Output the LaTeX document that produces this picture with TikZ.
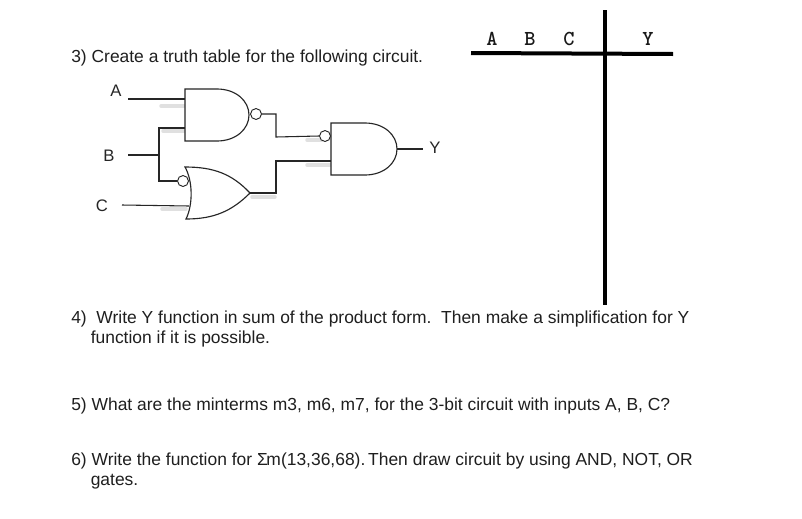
\documentclass[tikz,border=0pt]{standalone}
\usepackage{fontspec}
\setmainfont{Liberation Sans}
\begin{document}
\begin{tikzpicture}[x=0.75pt,y=-0.75pt,
  txt/.style={anchor=base west,inner sep=0pt,font=\fontsize{13.08pt}{15pt}\selectfont,text=black!88},
  lab/.style={anchor=center,inner sep=0pt,font=\fontsize{12.5pt}{14pt}\selectfont,text=black!85},
  mono/.style={anchor=center,inner sep=0pt,font=\fontsize{16pt}{17pt}\selectfont\ttfamily\bfseries,text=black!90},
  wire/.style={draw=black!85,line width=0.8pt,line join=miter},
  gate/.style={draw=black!85,line width=0.85pt,fill=white,line join=miter},
  bubble/.style={circle,draw=black!85,line width=0.7pt,fill=white,inner sep=0pt,minimum size=8.2pt},
  shade/.style={draw=black!12,line width=2.6pt,line cap=round},
  rule/.style={draw=black,line width=3pt}]
\useasboundingbox (0,0) rectangle (802,518);
\fill[white] (0,0) rectangle (802,518);

% truth table
\coordinate (tl) at (471,53);\coordinate (tr) at (673,54);
\coordinate (vt) at (605,10);\coordinate (vb) at (605,305);
\draw[rule] (tl) -- (tr);
\draw[rule] (vt) -- (vb);
\node[mono] (ta) at (492,39) {A};
\node[mono] (tb) at (530,39) {B};
\node[mono] (tc) at (569,39) {C};
\node[mono] (ty) at (648,39) {Y};

% soft shadows under wires
\foreach \a/\b/\c in {161/106/184,163/131/184,162/209/186,307/165/330,307/140/322,252/197/275}
  \draw[shade] (\a,\b) -- (\c,\b);

% labels
\node[lab] (la) at (116,91) {A};
\node[lab] (lb) at (109,156) {B};
\node[lab] (lc) at (102,206) {C};
\node[lab] (ly) at (435,148) {Y};

% junction and free ends
\coordinate (ina) at (128,99);
\coordinate (inb) at (128,155);
\coordinate (inc) at (122,205);
\coordinate (jb) at (159,155);

% gates
\coordinate (n1) at (185,89);\coordinate (n2) at (185,141);\coordinate (nt) at (249,115);
\draw[gate] (n1) -- (217,89) .. controls (236,89) and (249,101) .. (nt)
  .. controls (249,129) and (236,141) .. (217,141) -- (n2) -- cycle;
\coordinate (a1) at (331,123);\coordinate (a2) at (331,175);\coordinate (at) at (397,149);
\draw[gate] (a1) -- (365,123) .. controls (384,123) and (397,135) .. (at)
  .. controls (397,163) and (384,175) .. (365,175) -- (a2) -- cycle;
\coordinate (o1) at (185,167);\coordinate (o2) at (186,219);\coordinate (ot) at (250,193);
\draw[gate] (o1) .. controls (214,167) and (232,174) .. (ot)
  .. controls (232,211) and (214,219) .. (o2)
  .. controls (193,205) and (193,181) .. (o1) -- cycle;

\node[bubble] (bn) at (256,114) {};
\node[bubble] (ba) at (325,136) {};
\node[bubble] (bo) at (183,181) {};

% wires
\draw[wire] (ina) -- (n1 |- ina);
\draw[wire] (inb) -- (jb);
\draw[wire] (jb) -- (159,128) -- (185,128);
\draw[wire] (jb) -- (159,181) -- (bo.west);
\draw[wire] (inc) -- (189,206);
\draw[wire] (bn.east) -- (276,114) -- (276,137) -- (ba.west);
\draw[wire] (ot) -- (276,193) -- (276,161) -- (331,161);
\draw[wire] (at) -- (423,149);

% text
\node[txt] (t3) at (71,62) {3) Create a truth table for the following circuit.};
\node[txt] (t4) at (71,323) {4)\ \ Write Y function in sum of the product form.\ \ Then make a simplification for Y};
\node[txt] (t4b) at (90.5,343.5) {function if it is possible.};
\node[txt] (t5) at (71,410.5) {5) What are the minterms m3, m6, m7, for the 3-bit circuit with inputs A, B, C?};
\node[txt] (t6) at (71,465) {6) Write the function for Σ\kern-1pt m(13,36,68).\kern-1.5pt\ Then draw circuit by using AND, NOT, OR};
\node[txt] (t6b) at (90.5,485.5) {gates.};
\end{tikzpicture}
\end{document}
